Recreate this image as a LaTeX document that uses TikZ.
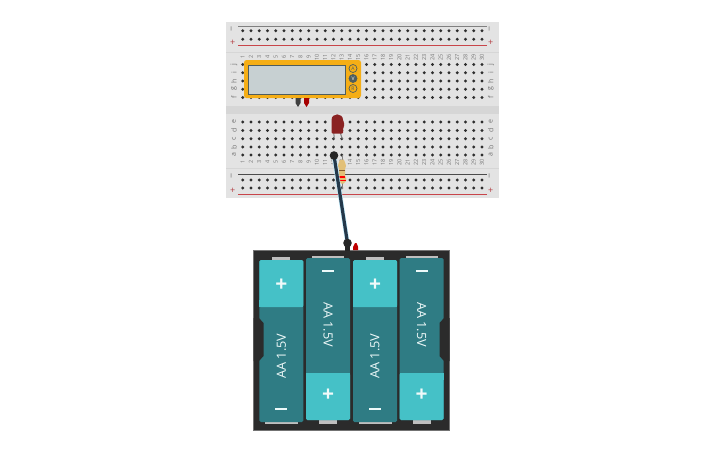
\documentclass[tikz,border=0pt]{standalone}
\usepackage{fontspec}
\setmainfont{Open Sans}
\definecolor{bb}{HTML}{E3E3E3}
\definecolor{bbd}{HTML}{D6D6D6}
\definecolor{holec}{HTML}{2E2E2E}
\definecolor{orng}{HTML}{F5AE16}
\definecolor{lcd}{HTML}{C7D0D2}
\definecolor{lcdb}{HTML}{4F5D5E}
\definecolor{tealdk}{HTML}{2F7C84}
\definecolor{teallt}{HTML}{45C1C7}
\definecolor{case}{HTML}{2B2B2B}
\definecolor{led}{HTML}{8A2222}
\definecolor{wireb}{HTML}{24384A}
\definecolor{tan}{HTML}{E2C078}
\definecolor{rd}{HTML}{C8454A}
\tikzset{
 tinylabel/.style={font=\fontsize{5.5}{5.5}\selectfont,text=black!55,rotate=90,inner sep=0pt},
 rowlabel/.style={font=\fontsize{7}{7}\selectfont,text=black!55,rotate=90,inner sep=0pt},
 signlabel/.style={font=\fontsize{9}{9}\selectfont,inner sep=0pt,text=black!55},
 battext/.style={font=\fontsize{12.7}{12.7}\selectfont,text=white!92!teallt,inner sep=0pt},
 batsign/.style={font=\bfseries\fontsize{21}{21}\selectfont,text=white!92!teallt,inner sep=0pt},
 metal/.style={fill=black!25,draw=none},
 btn/.style={circle,draw=lcdb,line width=.7pt,minimum size=8pt,inner sep=0pt,font=\fontsize{5}{5}\selectfont,text=lcdb},
}
\begin{document}
\begin{tikzpicture}[x=1pt,y=-1pt]
\useasboundingbox (0,0) rectangle (725,453);
% breadboard
\fill[bb] (226,22) rectangle (499,198);
\fill[bbd] (226,106) rectangle (499,113.5);
\draw[bbd,line width=.7pt] (226,52) -- (499,52) (226,168) -- (499,168);
\draw[black!50,line width=1pt] (238,26) -- (487,26);
\draw[rd,line width=1pt] (238,45.3) -- (487,45.3);
\draw[black!70,line width=1pt] (238,174) -- (487,174);
\draw[rd,line width=1pt] (238,194) -- (487,194);
\foreach \i in {0,...,29}{
 \pgfmathsetmacro{\xx}{242.7+8.25*\i}
 \foreach \yy in {30.7,39.3,64.5,72.7,81,89.2,97.5,122,130.5,138.7,147,155,180,188}
  \fill[holec] (\xx,\yy) circle (1.6);
 \pgfmathtruncatemacro{\nn}{\i+1}
 \node[tinylabel] (nt\i) at (\xx,57) {\nn};
 \node[tinylabel] (nb\i) at (\xx,162) {\nn};
}
\foreach \xx in {234,490.7}{
 \node[rowlabel] at (\xx,65) {j};
 \node[rowlabel] at (\xx,73) {i};
 \node[rowlabel] at (\xx,81) {h};
 \node[rowlabel] at (\xx,89) {g};
 \node[rowlabel] at (\xx,97.5) {f};
 \node[rowlabel] at (\xx,122) {e};
 \node[rowlabel] at (\xx,130.5) {d};
 \node[rowlabel] at (\xx,139) {c};
 \node[rowlabel] at (\xx,147) {b};
 \node[rowlabel] at (\xx,155) {a};
}
\node[signlabel,rotate=90] (m1) at (232.7,28.5) {−};
\node[signlabel,rotate=90] (m2) at (490.7,28.5) {−};
\node[signlabel,rotate=90] (m3) at (232.7,176) {−};
\node[signlabel,rotate=90] (m4) at (490.7,176) {−};
\node[signlabel,text=rd!90!black] (p1) at (232.7,43.2) {+};
\node[signlabel,text=rd!90!black] (p2) at (490.7,43.2) {+};
\node[signlabel,text=rd!90!black] (p3) at (232.7,190.5) {+};
\node[signlabel,text=rd!90!black] (p4) at (490.7,190.5) {+};
% multimeter
\fill[orng,rounded corners=2.5pt] (244,60) rectangle (361,98);
\draw[lcdb,fill=lcd,line width=1.4pt] (248.5,65.5) rectangle (345.5,94.5);
\node[btn] (bA) at (353,68.5) {A};
\node[btn,fill=lcdb,text=white] (bV) at (353,78.5) {V};
\node[btn] (bR) at (353,88.5) {R};
\fill[black!75] (295.5,98) -- (300.5,98) -- (300.5,103) -- (298,107) -- (295.5,103) -- cycle;
\fill[red!65!black] (304,98) -- (309,98) -- (309,103) -- (306.5,107) -- (304,103) -- cycle;
% LED
\draw[gray,line width=1pt] (333.8,132) -- (334.2,139);
\draw[gray,line width=1pt] (340,132) -- (342.3,139);
\fill[led,rounded corners=1pt] (331.5,133.5) -- (331.5,121) .. controls (331.5,112.5) and (343,112.5) .. (343,121) -- (344,122) -- (344,127) -- (343,128) -- (343,133.5) -- cycle;
% resistor
\coordinate (r1) at (342,155);
\coordinate (r2) at (342,189);
\draw[gray,line width=1pt] (r1) -- (r2);
\fill[tan] (340,160) .. controls (342,159) and (344,160) .. (344,160) .. controls (345,163) and (346,164) .. (346,166) -- (345,169) -- (345,176) -- (346,178) -- (346,181) -- (343.5,183.5) -- (340.5,183.5) -- (338,181) -- (338,178) -- (339,176) -- (339,169) -- (338,166) .. controls (338,164) and (339,163) .. (340,160) -- cycle;
\draw[brown!70!black,line width=1.6pt] (339,170.5) -- (345,170.5);
\draw[red,line width=1.6pt] (338.7,177.2) -- (345.3,177.2);
\draw[red,line width=1.6pt] (338,180.4) -- (346,180.4);
% battery holder
\draw[black!55,fill=case,line width=.6pt] (253.5,250.5) rectangle (449.5,430.5);
\coordinate (wa) at (334,155.5);
\coordinate (wb) at (347.5,243);
\foreach \x/\top/\bot in {259.3/260/422,353/260/422}{
 \fill[metal] (\x+13,257) rectangle (\x+31,261);
 \fill[metal] (\x+6,420) rectangle (\x+38.5,424);
 \fill[tealdk,rounded corners=1.5pt] (\x,\top) rectangle (\x+44,\bot);
 \fill[teallt,rounded corners=1.5pt] (\x,\top) rectangle (\x+44,307);
 \fill[teallt] (\x,300) rectangle (\x+44,307);
 \node[batsign] at (\x+22,285) {+};
 \node[battext,rotate=90] at (\x+22,356) {AA 1.5V};
 \fill[white!90!teallt] (\x+16,408) rectangle (\x+28,410.2);
}
\foreach \x/\top/\bot in {306/258/420,399.7/258/420}{
 \fill[metal] (\x+6,256) rectangle (\x+38,259);
 \fill[metal] (\x+13,418) rectangle (\x+31,424);
 \fill[tealdk,rounded corners=1.5pt] (\x,\top) rectangle (\x+44,\bot);
 \fill[teallt,rounded corners=1.5pt] (\x,373) rectangle (\x+44,\bot);
 \fill[teallt] (\x,373) rectangle (\x+44,380);
 \node[batsign] at (\x+22,395) {+};
 \node[battext,rotate=-90] at (\x+22,324.5) {AA 1.5V};
 \fill[white!90!teallt] (\x+16,270) rectangle (\x+28,272.2);
}
\fill[case] (253.5,318) -- (259,318) -- (263.5,323) -- (263.5,356) -- (259,361) -- (253.5,361) -- cycle;
\fill[case] (449.5,318) -- (444,318) -- (439.5,323) -- (439.5,356) -- (444,361) -- (449.5,361) -- cycle;
% wire
\draw[cyan!25!white,line width=4.4pt] (wa) -- (wb);
\draw[wireb,line width=3.2pt] (wa) -- (wb);
\fill[black!85] (wa) circle (4.3);
\fill[black!85] (wb) circle (4.3);
\fill[black!85] (345,246) rectangle (350,251);
\fill[red!75!black] (353,250) -- (353,247) -- (355,243) -- (356.5,243) -- (358.2,247) -- (358.2,250) -- cycle;
\end{tikzpicture}
\end{document}
